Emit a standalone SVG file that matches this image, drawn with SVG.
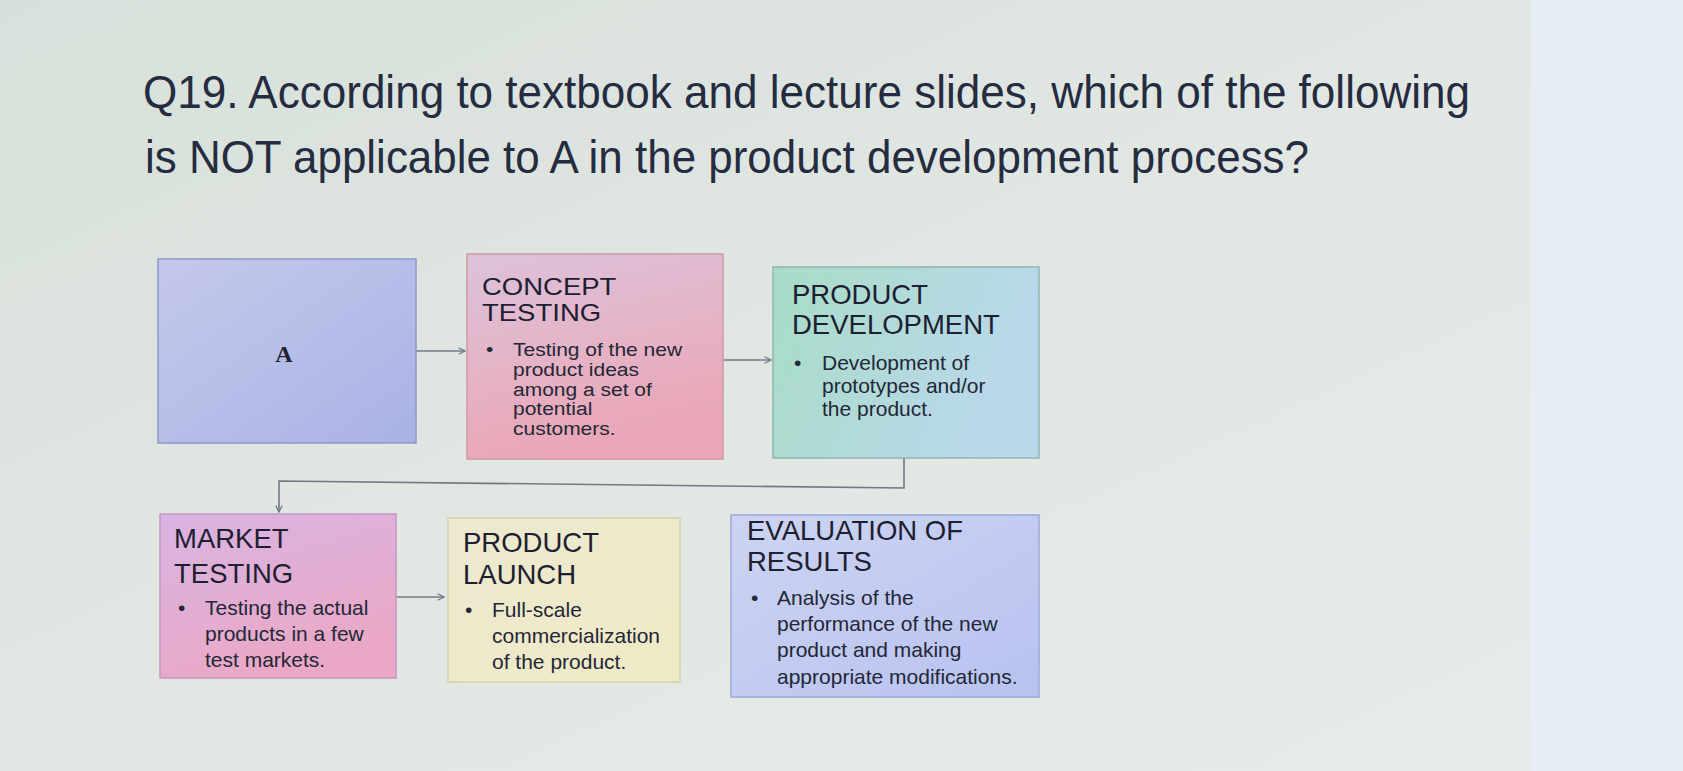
<svg xmlns="http://www.w3.org/2000/svg" width="1683" height="771" viewBox="0 0 1683 771">
<style>
.title{font-family:"Liberation Sans",Arial,sans-serif;font-size:47px;fill:#252c40}
.head{font-family:"Liberation Sans",Arial,sans-serif;font-size:27.5px;fill:#1c2030}
.body{font-family:"Liberation Sans",Arial,sans-serif;font-size:21px;fill:#232736}
.box{stroke-width:1.5}
.conn{fill:none;stroke:#707a86;stroke-width:1.6}
</style>
<defs>
<linearGradient id="bg" x1="0" y1="0" x2="1" y2="1">
<stop offset="0" stop-color="#d7e0da"/>
<stop offset="0.5" stop-color="#e2e7e3"/>
<stop offset="1" stop-color="#e7ebe9"/>
</linearGradient>
<linearGradient id="gA" x1="0" y1="0" x2="1" y2="1">
<stop offset="0" stop-color="#c4c9ea"/>
<stop offset="1" stop-color="#a9b2e6"/>
</linearGradient>
<linearGradient id="gC" x1="0" y1="0" x2="0.3" y2="1">
<stop offset="0" stop-color="#dcc2dc"/>
<stop offset="0.6" stop-color="#e6b2c4"/>
<stop offset="1" stop-color="#eaa6b6"/>
</linearGradient>
<linearGradient id="gP" x1="0" y1="0" x2="1" y2="0.3">
<stop offset="0" stop-color="#a8dcc6"/>
<stop offset="1" stop-color="#bad8ec"/>
</linearGradient>
<linearGradient id="gM" x1="0" y1="0" x2="0.4" y2="1">
<stop offset="0" stop-color="#d9b4e2"/>
<stop offset="1" stop-color="#eaa8c6"/>
</linearGradient>
<linearGradient id="gL" x1="0" y1="0" x2="1" y2="1">
<stop offset="0" stop-color="#ece9cf"/>
<stop offset="1" stop-color="#f0eac6"/>
</linearGradient>
<linearGradient id="gE" x1="0" y1="0" x2="1" y2="1">
<stop offset="0" stop-color="#cdd4f2"/>
<stop offset="1" stop-color="#b7c2f0"/>
</linearGradient>
<marker id="arr" viewBox="0 0 10 10" refX="9" refY="5" markerWidth="8" markerHeight="8" orient="auto" markerUnits="userSpaceOnUse">
<polyline points="1,1 9,5 1,9" fill="none" stroke="#707a86" stroke-width="1.6"/>
</marker>
</defs>
<rect width="1683" height="771" fill="url(#bg)"/>
<rect x="1530" y="0" width="153" height="771" fill="#e7edf4"/>

<g id="title">
<text class="title" x="143" y="108" textLength="1327" lengthAdjust="spacingAndGlyphs">Q19. According to textbook and lecture slides, which of the following</text>
<text class="title" x="145" y="173" textLength="1164" lengthAdjust="spacingAndGlyphs">is NOT applicable to A in the product development process?</text>
</g>

<g id="connectors">
<line class="conn" x1="416" y1="351" x2="465" y2="351" marker-end="url(#arr)"/>
<line class="conn" x1="723" y1="360" x2="771" y2="360" marker-end="url(#arr)"/>
<polyline class="conn" points="904,458 904,488 279,481 279,512" marker-end="url(#arr)"/>
<line class="conn" x1="396" y1="597" x2="444" y2="597" marker-end="url(#arr)"/>
</g>

<g id="node-a">
<rect class="box" x="158" y="259" width="258" height="184" fill="url(#gA)" stroke="#8e98c8"/>
<text x="284" y="362" text-anchor="middle" font-family="Liberation Serif,Times New Roman,serif" font-weight="bold" font-size="24" fill="#1e2230">A</text>
</g>

<g id="node-concept">
<rect class="box" x="467" y="254" width="256" height="205" fill="url(#gC)" stroke="#cf98a6"/>
<g transform="translate(0,295) scale(1,0.88)">
<text class="head" x="482" y="0">CONCEPT</text>
<text class="head" x="482" y="29.5">TESTING</text>
</g>
<g transform="translate(0,356) scale(1,0.84)">
<text class="body" x="486" y="0">•</text>
<text class="body" x="513" y="0">Testing of the new</text>
<text class="body" x="513" y="23.8">product ideas</text>
<text class="body" x="513" y="47.6">among a set of</text>
<text class="body" x="513" y="70.2">potential</text>
<text class="body" x="513" y="94">customers.</text>
</g>
</g>

<g id="node-product-development">
<rect class="box" x="773" y="267" width="266" height="191" fill="url(#gP)" stroke="#8fb6b4"/>
<text class="head" x="792" y="304">PRODUCT</text>
<text class="head" x="792" y="334">DEVELOPMENT</text>
<text class="body" x="794" y="370">•</text>
<text class="body" x="822" y="370">Development of</text>
<text class="body" x="822" y="393">prototypes and/or</text>
<text class="body" x="822" y="416">the product.</text>
</g>

<g id="node-market-testing">
<rect class="box" x="160" y="514" width="236" height="164" fill="url(#gM)" stroke="#c496c2"/>
<text class="head" x="174" y="548">MARKET</text>
<text class="head" x="174" y="583">TESTING</text>
<text class="body" x="178" y="615">•</text>
<text class="body" x="205" y="615">Testing the actual</text>
<text class="body" x="205" y="641">products in a few</text>
<text class="body" x="205" y="667">test markets.</text>
</g>

<g id="node-product-launch">
<rect class="box" x="448" y="518" width="232" height="164" fill="url(#gL)" stroke="#d6d2ac"/>
<text class="head" x="463" y="552">PRODUCT</text>
<text class="head" x="463" y="584">LAUNCH</text>
<text class="body" x="465" y="617">•</text>
<text class="body" x="492" y="617">Full-scale</text>
<text class="body" x="492" y="643">commercialization</text>
<text class="body" x="492" y="669">of the product.</text>
</g>

<g id="node-evaluation">
<rect class="box" x="731" y="515" width="308" height="182" fill="url(#gE)" stroke="#9ca8d8"/>
<text class="head" x="747" y="540">EVALUATION OF</text>
<text class="head" x="747" y="571">RESULTS</text>
<text class="body" x="751" y="605">•</text>
<text class="body" x="777" y="605">Analysis of the</text>
<text class="body" x="777" y="631">performance of the new</text>
<text class="body" x="777" y="657">product and making</text>
<text class="body" x="777" y="684">appropriate modifications.</text>
</g>
</svg>
